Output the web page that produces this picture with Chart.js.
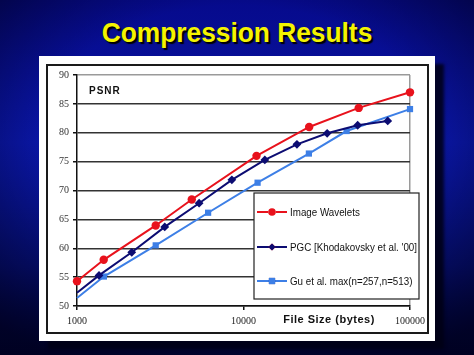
<!DOCTYPE html>
<html lang="en">
<head>
    <meta charset="UTF-8">
    <title>Compression Results</title>
    <script src="https://cdn.jsdelivr.net/npm/chart.js"></script>
    <style>
        body{
            margin:0; width:474px; height:355px; overflow:hidden; position:relative;
            background:
                radial-gradient(ellipse 75% 70% at 50% 40%, rgba(0,0,0,0) 55%, rgba(0,0,25,0.75) 100%),
                linear-gradient(to bottom, #060a8c 0%, #0a16a4 40%, #06107e 75%, #00043e 100%);
        }
        #title{
            position:absolute; left:0; top:19px; width:474px; text-align:center;
            font:bold 28px "Liberation Sans", Arial, sans-serif; line-height:28px;
            color:#f4f400; text-shadow:2px 2px 1px #000;
            transform:scaleX(0.94);
        }
        #box{
            position:absolute; left:39px; top:56px; width:396px; height:285px;
            background:#fff; box-shadow:9px 8px 3px rgba(0,0,20,0.85);
        }
        #frame{
            position:absolute; left:46px; top:64px; width:379px; height:266px;
            border:2px solid #1a1a1a;
        }
        #myChart{position:absolute; left:0; top:0;}
    </style>
</head>
<body>
    <div id="title">Compression Results</div>
    <div id="box"></div>
    <div id="frame"></div>
    <canvas id="myChart" width="474" height="355"></canvas>

<script>
    // 파일 크기(bytes)
    var wavX = [1000, 1447, 2970, 4890, 11970, 24800, 49200, 100000];
    var wavY = [54.3, 58.0, 63.95, 68.45, 76.0, 81.0, 84.3, 87.0];

    var pgcX = [1000, 1356, 2132, 3365, 5413, 8512, 13430, 20940, 31800, 48500, 73500];
    var pgcY = [52.3, 55.3, 59.3, 63.7, 67.8, 71.85, 75.3, 78.0, 79.9, 81.3, 82.05];

    var guX = [1000, 1450, 2970, 6130, 12150, 24700, 41600, 100000];
    var guY = [51.4, 55.1, 60.5, 66.15, 71.35, 76.4, 80.3, 84.1];

    var seriesNames = ["Image Wavelets", "PGC [Khodakovsky et al. '00]", "Gu et al. max(n=257,n=513)"];
    var xTickValues = [1000, 10000, 100000];
    var xTickLabels = ["1000", "10000", "100000"];
    var yTickLabels = ["50", "55", "60", "65", "70", "75", "80", "85", "90"];

    function f_points(p_x, p_y){
        return p_x.map(function(v, i){ return {x: v, y: p_y[i]}; });
    }
    // 첫 점은 마커 없이 선만
    function f_radius(p_arr, p_r){
        return p_arr.map(function(v, i){ return i === 0 ? 0 : p_r; });
    }

    // 범례, PSNR, 축 제목은 직접 그림
    const extraText = {
        id: "extraText",
        afterDatasetsDraw(chart){
            const c = chart.ctx;
            const ds = chart.data.datasets;
            c.save();
            // legend box
            c.fillStyle = "#fff";
            c.fillRect(254, 193, 165, 106);
            c.strokeStyle = "#222";
            c.lineWidth = 1.2;
            c.strokeRect(254, 193, 165, 106);
            var rows = [212, 247, 281];
            for(var i=0; i<ds.length; i++){
                var y = rows[i];
                c.strokeStyle = ds[i].borderColor;
                c.lineWidth = 2;
                c.beginPath();
                c.moveTo(257, y);
                c.lineTo(287, y);
                c.stroke();
                Chart.helpers.drawPoint(c, {
                    pointStyle: ds[i].pointStyle,
                    radius: ds[i].legendRadius,
                    borderWidth: 0
                }, 272, y);
                c.fillStyle = ds[i].borderColor;
                c.fill();
                c.save();
                c.translate(290, y);
                c.scale(0.89, 1);
                c.fillStyle = "#111";
                c.font = "11px 'Liberation Sans', Arial, sans-serif";
                c.textBaseline = "middle";
                c.fillText(seriesNames[i], 0, 0.5);
                c.restore();
            }
            // PSNR
            c.fillStyle = "#111";
            c.font = "bold 10px 'Liberation Sans', Arial, sans-serif";
            c.letterSpacing = "1px";
            c.textBaseline = "middle";
            c.fillText("PSNR", 89, 91);
            // x axis title
            c.font = "bold 11px 'Liberation Sans', Arial, sans-serif";
            c.letterSpacing = "0.5px";
            c.textAlign = "center";
            c.fillText("File Size (bytes)", 329, 320);
            c.restore();
        }
    };

    const ctx = document.getElementById('myChart').getContext('2d');
    const myChart = new Chart(ctx, {
        type: 'line',
        data: {
            datasets: [{
                    label: seriesNames[0],
                    data: f_points(wavX, wavY),
                    borderColor: "#e8121c",
                    backgroundColor: "#e8121c",
                    pointStyle: "circle",
                    pointRadius: 4.2,
                    pointBorderWidth: 0,
                    legendRadius: 3.8,
                    borderWidth: 2
                },
                {
                    label: seriesNames[1],
                    data: f_points(pgcX, pgcY),
                    borderColor: "#0c0c72",
                    backgroundColor: "#0c0c72",
                    pointStyle: "rectRot",
                    pointRadius: f_radius(pgcX, 4.4),
                    pointBorderWidth: 0,
                    legendRadius: 3.6,
                    borderWidth: 2
                },
                {
                    label: seriesNames[2],
                    data: f_points(guX, guY),
                    borderColor: "#3d7fe6",
                    backgroundColor: "#3d7fe6",
                    pointStyle: "rect",
                    pointRadius: f_radius(guX, 4.4),
                    pointBorderWidth: 0,
                    legendRadius: 4.4,
                    borderWidth: 2
                }
            ]
        },
        options: {
            responsive: false,
            animation: false,
            devicePixelRatio: 1,
            layout: { padding: { top: 75, right: 64, left: 0, bottom: 0 } },
            elements: {
                line: { tension: 0 }
            },
            datasets: { line: { clip: false } },
            plugins: {
                legend: { display: false },
                title: { display: false },
                tooltip: { enabled: false }
            },
            scales: {
                x: {
                    type: 'logarithmic',
                    min: 1000,
                    max: 100000,
                    afterBuildTicks: function(s){
                        s.ticks = xTickValues.map(function(v){ return {value: v, major: true}; });
                    },
                    afterFit: function(s){ s.height = 49; },
                    ticks: {
                        autoSkip: false,
                        maxRotation: 0,
                        padding: 5,
                        color: "#222",
                        font: { family: "'Liberation Serif', 'Times New Roman', serif", size: 10 },
                        callback: function(v){
                            var k = xTickValues.indexOf(v);
                            return k >= 0 ? xTickLabels[k] : "";
                        }
                    },
                    grid: {
                        drawOnChartArea: true,
                        color: function(c){ return c.tick && c.tick.value === 100000 ? "#9a9a9a" : "rgba(0,0,0,0)"; },
                        tickColor: "#111",
                        tickLength: 4,
                        lineWidth: 1.5
                    },
                    border: { color: "#111", width: 1.5 }
                },
                y: {
                    min: 50,
                    max: 90,
                    afterFit: function(s){ s.width = 77; },
                    ticks: {
                        stepSize: 5,
                        padding: 4,
                        color: "#333",
                        font: { family: "'Liberation Serif', 'Times New Roman', serif", size: 10 },
                        callback: function(v){
                            var k = (v - 50) / 5;
                            return yTickLabels[k] !== undefined ? yTickLabels[k] : "";
                        }
                    },
                    grid: {
                        color: function(c){ return c.tick && c.tick.value === 90 ? "#9a9a9a" : "#333"; },
                        tickColor: "#111",
                        tickLength: 4,
                        lineWidth: 1.5
                    },
                    border: { color: "#111", width: 1.5 }
                }
            }
        },
        plugins: [extraText]
    });
</script>
</body>
</html>
